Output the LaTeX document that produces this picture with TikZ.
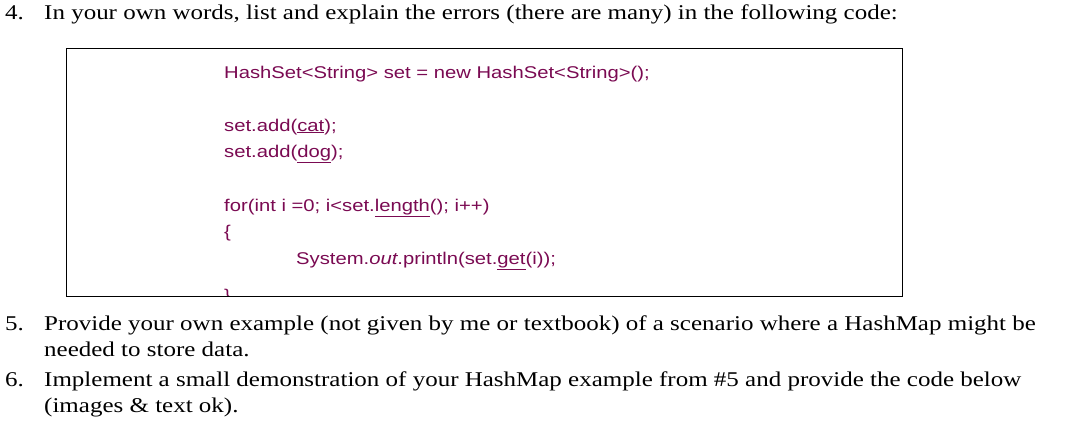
\documentclass[tikz,border=0pt]{standalone}
\usepackage{fontspec}
\setmainfont{Liberation Serif}
\newfontfamily\codefont{Liberation Sans}
\definecolor{codecol}{HTML}{7A0A52}
\newcommand\sx[1]{\scalebox{1.19}[1]{#1}}
\tikzset{txt/.style={anchor=base west,inner sep=0pt,font=\fontsize{21}{24}\selectfont},
code/.style={anchor=base west,inner sep=0pt,text=codecol,font=\codefont\fontsize{17}{20}\selectfont}}
\newcommand\ul[1]{\underline{#1}}
\begin{document}
\begin{tikzpicture}[x=1pt,y=-1pt]
\useasboundingbox (0,0) rectangle (1073,436);
\node[txt] (n4) at (5,20) {\sx{4.}};
\node[txt] (l4) at (44,20) {\sx{In your own words, list and explain the errors (there are many) in the following code:}};
\draw[line width=0.8pt] (66,48) rectangle (902,296);
\node[code] (c1) at (224,78) {\sx{HashSet<String> set = new HashSet<String>();}};
\node[code] (c2) at (224,131) {\sx{set.add(\ul{cat});}};
\node[code] (c3) at (224,157) {\sx{set.add(\ul{dog});}};
\node[code] (c4) at (224,211) {\sx{for(int i =0; i<set.\ul{length}(); i++)}};
\node[code] (c5) at (224,237) {\sx{\{}};
\node[code] (c6) at (296,264) {\sx{System.\textit{out}.println(set.\ul{get}(i));}};
\begin{scope}
\clip (66,48) rectangle (902,295.5);
\node[code] (c7) at (224,301) {\sx{\}}};
\end{scope}
\node[txt] (n5) at (5,330) {\sx{5.}};
\node[txt] (l5) at (44,330) {\sx{Provide your own example (not given by me or textbook) of a scenario where a HashMap might be}};
\node[txt] (l5b) at (44,356) {\sx{needed to store data.}};
\node[txt] (n6) at (5,386) {\sx{6.}};
\node[txt] (l6) at (44,386) {\sx{Implement a small demonstration of your HashMap example from \#5 and provide the code below}};
\node[txt] (l6b) at (44,412) {\sx{(images \& text ok).}};
\end{tikzpicture}
\end{document}
